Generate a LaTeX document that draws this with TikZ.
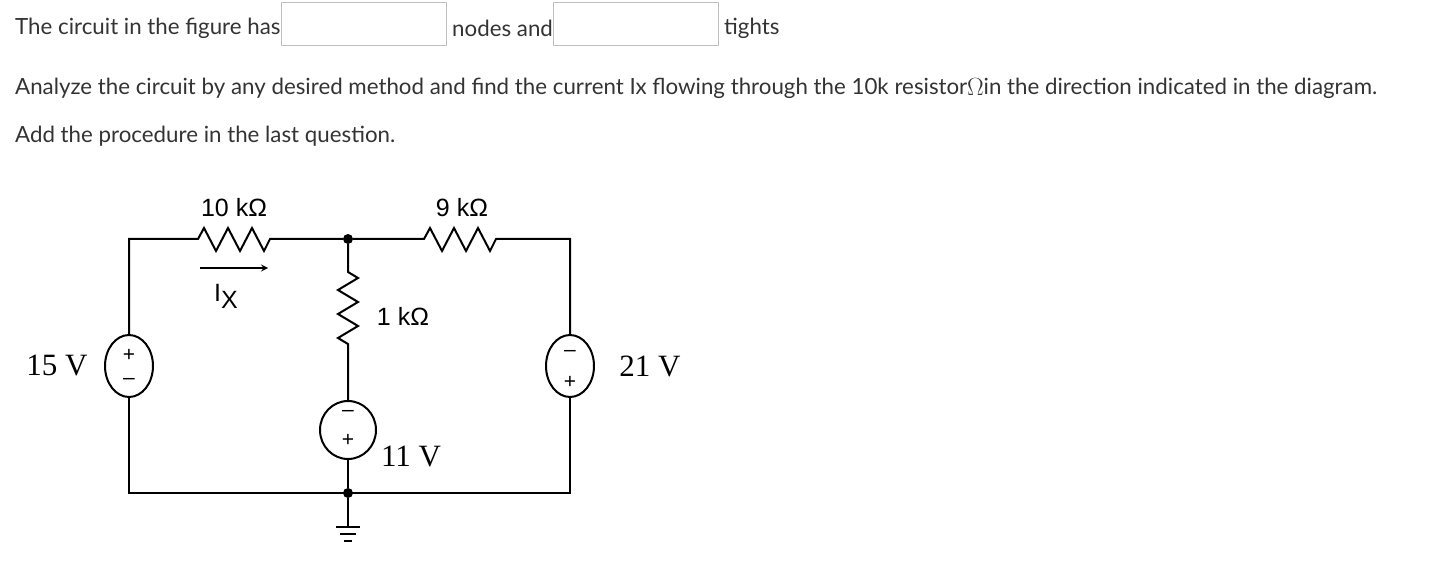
\documentclass[tikz,border=0pt]{standalone}
\usepackage{fontspec}
\usetikzlibrary{shapes.geometric}
\setmainfont{Lato}
\newfontfamily\arialf{Liberation Sans}
\newfontfamily\timesf{Liberation Serif}
\begin{document}
\begin{tikzpicture}[x=1pt,y=-1pt,
  txt/.style={anchor=west,inner sep=0,font=\fontsize{22.3}{26}\selectfont,text=black!80},
  ansbox/.style={draw=black!25,minimum width=165,minimum height=43,inner sep=0,anchor=north west},
  wire/.style={line width=2pt},
  src/.style={draw,line width=2pt,ellipse,minimum width=48,minimum height=62,inner sep=0},
  ohm/.style={font=\arialf\fontsize{25}{28}\selectfont,inner sep=0},
  volt/.style={font=\timesf\fontsize{31}{34}\selectfont,inner sep=0},
  sgn/.style={font=\arialf\fontsize{21}{21}\selectfont,inner sep=0},
  dot/.style={circle,fill,inner sep=0,minimum size=10}]
\useasboundingbox (0,0) rectangle (1451,580);
\node[txt] (t1) at (15,28) {The circuit in the figure has};
\node[ansbox] (b1) at (281,2) {};
\node[txt] (t2) at (452,28) {nodes and};
\node[ansbox] (b2) at (553,2) {};
\node[txt] (t3) at (724,28) {tights};
\node[txt] (t4) at (15,88) {Analyze the circuit by any desired method and find the current Ix flowing through the 10k resistor\raisebox{-1pt}{\fontsize{26}{26}\selectfont$\Omega$}in the direction indicated in the diagram.};
\node[txt] (t5) at (15,136) {Add the procedure in the last question.};
% coordinates
\coordinate (TL) at (129,239);
\coordinate (TM) at (348,239);
\coordinate (TR) at (570,239);
\coordinate (BL) at (129,493);
\coordinate (BM) at (348,493);
\coordinate (BR) at (570,493);
\node[src] (V1) at (129,366) {};
\node[src,minimum width=56,minimum height=58] (V2) at (348,430) {};
\node[src] (V3) at (570,366) {};
\node[dot] (n1) at (TM) {};
\node[dot] (n2) at (BM) {};
% wires
\draw[wire,line join=miter] (V1.north) -- (TL) -- (198,239) -- (204,228) -- (216,251) -- (228,228) -- (240,251) -- (252,228) -- (264,251) -- (270,239) -- (n1);
\draw[wire,line join=miter] (n1) -- (424,239) -- (430,228) -- (442,251) -- (454,228) -- (466,251) -- (478,228) -- (490,251) -- (496,239) -- (TR) -- (V3.north);
\draw[wire,line join=miter] (n1) -- (348,272) -- (358,278) -- (338,290) -- (358,302) -- (338,314) -- (358,326) -- (338,338) -- (348,344) -- (V2.north);
\draw[wire] (V1.south) -- (BL) -- (BR) -- (V3.south);
\draw[wire] (V2.south) -- (n2) -- (348,526) coordinate (g);
\draw[wire] (336,527) -- (360,527) (340,534) -- (356,534) (344,541) -- (352,541);
\draw[line width=2pt,-stealth] (200,268) -- (268,268);
% signs
\node[sgn] (p1) at (129,355) {+};
\node[sgn] (m1) at (129,381) {–};
\node[sgn] (m2) at (348,413) {–};
\node[sgn] (p2) at (348,440) {+};
\node[sgn] (m3) at (570,353) {–};
\node[sgn] (p3) at (570,382) {+};
% labels
\node[ohm] (l1) at (234,208) {10 kΩ};
\node[ohm] (l2) at (462,208) {9 kΩ};
\node[ohm] (l3) at (403,316) {1 kΩ};
\node[ohm] (lx) at (226,296) {I\raisebox{-7pt}{X}};
\node[volt] (v1) at (57,366) {15 V};
\node[volt] (v3) at (650,366) {21 V};
\node[volt] (v2) at (411,456) {11 V};
\end{tikzpicture}
\end{document}
